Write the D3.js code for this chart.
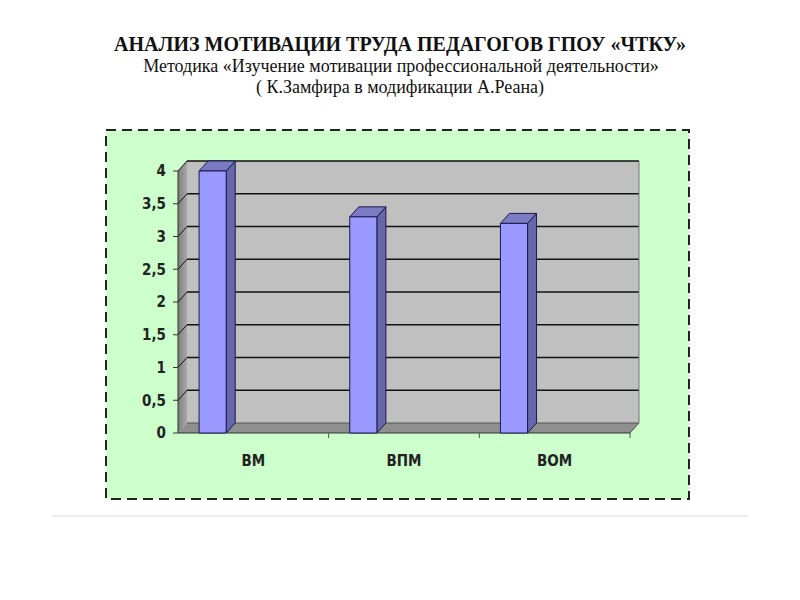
<!DOCTYPE html>
<html>
<head>
<meta charset="utf-8">
<script src="https://cdn.jsdelivr.net/npm/d3@7"></script>
<style>
  body { margin: 0; background: #fff; }
  svg { display: block; }
  .title { font-family: "Liberation Serif", "Times New Roman", serif; fill: #111; }
  .tick-label { font-family: "Liberation Sans Narrow", "DejaVu Sans Condensed", sans-serif; font-size: 15px; font-weight: bold; fill: #222; }
  .cat-label { font-family: "Liberation Sans Narrow", "DejaVu Sans Condensed", sans-serif; font-size: 15px; font-weight: bold; fill: #222; }
</style>
</head>
<body>
<svg id="chart" width="800" height="600"></svg>
<script>
// chart data
const categories = ["ВМ", "ВПМ", "ВОМ"];
const values = [4, 3.3, 3.2];
const tickValues = [0, 0.5, 1, 1.5, 2, 2.5, 3, 3.5, 4];
const tickLabels = ["0", "0,5", "1", "1,5", "2", "2,5", "3", "3,5", "4"];
const titleLines = [
  "АНАЛИЗ МОТИВАЦИИ ТРУДА ПЕДАГОГОВ ГПОУ «ЧТКУ»",
  "Методика «Изучение мотивации профессиональной деятельности»",
  "( К.Замфира в модификации А.Реана)"
];

const svg = d3.select("#chart");

// titles
svg.append("text").attr("class", "title")
  .attr("x", 400).attr("y", 51)
  .attr("text-anchor", "middle")
  .style("font-size", "20px").style("font-weight", "bold")
  .text(titleLines[0]);
svg.append("text").attr("class", "title")
  .attr("x", 401).attr("y", 72)
  .attr("text-anchor", "middle")
  .style("font-size", "18px")
  .text(titleLines[1]);
svg.append("text").attr("class", "title")
  .attr("x", 400).attr("y", 93)
  .attr("text-anchor", "middle")
  .style("font-size", "18px")
  .text(titleLines[2]);

// green chart area with dashed border
svg.append("rect")
  .attr("x", 106).attr("y", 130)
  .attr("width", 583).attr("height", 369)
  .attr("fill", "#ccffcc")
  .attr("stroke", "#222")
  .attr("stroke-width", 2)
  .attr("stroke-dasharray", "10,6");

// separator line under the chart
svg.append("line")
  .attr("x1", 52).attr("x2", 748)
  .attr("y1", 516).attr("y2", 516)
  .attr("stroke", "#ececec").attr("stroke-width", 2);

// scales
const x = d3.scaleBand().domain(categories).range([178, 630]);
const y = d3.scaleLinear().domain([0, 4]).range([433, 171]);
const dx = 9, dy = -10; // 3d depth offset

const x0 = x.range()[0], x1 = x.range()[1];
const yb = y(0), yt = y(4);

const poly = pts => "M" + pts.map(p => p.join(",")).join("L") + "Z";

// back wall
svg.append("path")
  .attr("d", poly([[x0 + dx, yb + dy], [x1 + dx, yb + dy], [x1 + dx, yt + dy], [x0 + dx, yt + dy]]))
  .attr("fill", "#c0c0c0");

// left wall
const lg = svg.append("defs").append("linearGradient")
  .attr("id", "leftwall").attr("x1", 0).attr("x2", 1).attr("y1", 0).attr("y2", 0);
lg.append("stop").attr("offset", 0).attr("stop-color", "#7d7d7d");
lg.append("stop").attr("offset", 1).attr("stop-color", "#a8a8a8");
svg.append("path")
  .attr("d", poly([[x0, yb], [x0, yt], [x0 + dx, yt + dy], [x0 + dx, yb + dy]]))
  .attr("fill", "url(#leftwall)");

// floor
svg.append("path")
  .attr("d", poly([[x0, yb], [x1, yb], [x1 + dx, yb + dy], [x0 + dx, yb + dy]]))
  .attr("fill", "#8f8f8f");

// gridlines on back wall and left wall
const grid = svg.append("g").attr("stroke", "#111").attr("stroke-width", 1.5).attr("fill", "none");
tickValues.filter(v => v > 0).forEach(v => {
  grid.append("line")
    .attr("x1", x0 + dx).attr("x2", x1 + dx)
    .attr("y1", y(v) + dy).attr("y2", y(v) + dy);
  grid.append("line")
    .attr("x1", x0).attr("x2", x0 + dx)
    .attr("y1", y(v)).attr("y2", y(v) + dy)
    .attr("stroke-width", 1);
});
// floor back edge and right side edge
svg.append("path")
  .attr("d", `M${x0 + dx},${yb + dy}L${x1 + dx},${yb + dy}L${x1},${yb}`)
  .attr("fill", "none").attr("stroke", "#555").attr("stroke-width", 1);
svg.append("line")
  .attr("x1", x1 + dx).attr("x2", x1 + dx)
  .attr("y1", yt + dy).attr("y2", yb + dy)
  .attr("stroke", "#777").attr("stroke-width", 1);

// axes
svg.append("line")
  .attr("x1", x0).attr("x2", x0).attr("y1", yt).attr("y2", yb)
  .attr("stroke", "#333").attr("stroke-width", 1);
svg.append("line")
  .attr("x1", x0).attr("x2", x1).attr("y1", yb).attr("y2", yb)
  .attr("stroke", "#333").attr("stroke-width", 1);

// y ticks + labels
tickValues.forEach((v, i) => {
  svg.append("line")
    .attr("x1", x0 - 5).attr("x2", x0)
    .attr("y1", y(v)).attr("y2", y(v))
    .attr("stroke", "#333");
  svg.append("text").attr("class", "tick-label")
    .attr("x", x0 - 12).attr("y", y(v))
    .attr("dy", "0.35em")
    .attr("text-anchor", "end")
    .text(tickLabels[i]);
});

// x ticks at band edges
categories.forEach(c => {
  const xe = x(c) + x.bandwidth();
  svg.append("line")
    .attr("x1", xe).attr("x2", xe)
    .attr("y1", yb).attr("y2", yb + 5)
    .attr("stroke", "#555");
});

// category labels
svg.selectAll(".cat-label")
  .data(categories)
  .enter().append("text")
  .attr("class", "cat-label")
  .attr("x", d => x(d) + x.bandwidth() / 2)
  .attr("y", 466)
  .attr("text-anchor", "middle")
  .text(d => d);

// bars (3d columns)
const bw = x.bandwidth() * 0.18;
const bo = x.bandwidth() * 0.14;
const bars = svg.selectAll(".bar")
  .data(categories.map((c, i) => ({ c, v: values[i] })))
  .enter().append("g").attr("class", "bar")
  .attr("stroke", "#1a1a4d").attr("stroke-width", 1).attr("stroke-linejoin", "round");

bars.append("path") // side
  .attr("d", d => {
    const bx = x(d.c) + bo + bw;
    return poly([[bx, yb], [bx, y(d.v)], [bx + dx, y(d.v) + dy], [bx + dx, yb + dy]]);
  })
  .attr("fill", "#6666aa");
bars.append("path") // top
  .attr("d", d => {
    const bx = x(d.c) + bo;
    return poly([[bx, y(d.v)], [bx + bw, y(d.v)], [bx + bw + dx, y(d.v) + dy], [bx + dx, y(d.v) + dy]]);
  })
  .attr("fill", "#7b7bc4");
bars.append("rect") // front
  .attr("x", d => x(d.c) + bo)
  .attr("y", d => y(d.v))
  .attr("width", bw)
  .attr("height", d => yb - y(d.v))
  .attr("fill", "#9999ff");
</script>
</body>
</html>
